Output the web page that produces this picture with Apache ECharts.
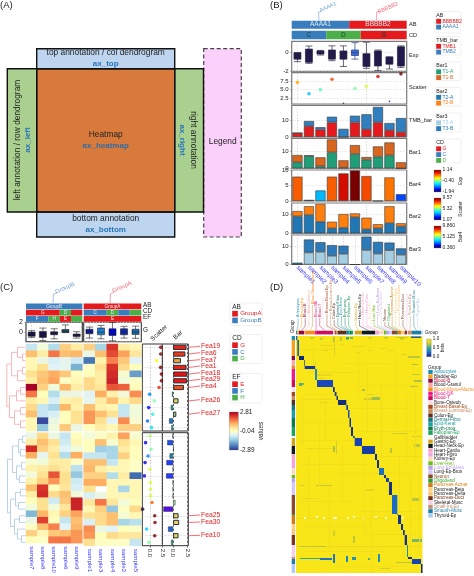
<!DOCTYPE html>
<html>
<head>
<meta charset="utf-8">
<style>html,body{margin:0;padding:0;background:#fff}#c{width:474px;height:576px}</style>
<script src="https://cdn.jsdelivr.net/npm/echarts@6/dist/echarts.min.js"></script>
</head>
<body>
<div id="c"></div>
<script>
// ---------- Panel B data ----------
const samplesB = ['sample1','sample2','sample3','sample4','sample5','sample6','sample7','sample8','sample9','sample10'];
const abSpans = [['AAAA1',5,'#3a7dbd'],['BBBBB2',5,'#e41a1c']];
const cdSpans = [['C',3,'#3a7dbd'],['D',3,'#4daf4a'],['G',4,'#e41a1c']];
const expBoxes = [
  [-0.98,-0.7,-0.2,0,0],[-1.16,-1.05,-0.2,0.4,0.73],[-0.25,-0.15,0,0.2,0.25],[-0.87,-0.7,-0.2,0.3,0.75],[-1.5,-0.7,-0.3,0.2,0.75],
  [-0.7,-0.3,0,0.3,1.1],[-1.7,-1.5,-0.9,-0.1,1.15],[-1.95,-1.45,-0.7,0.2,0.3],[-1.78,-1.25,-0.9,-0.47,-0.45],[-1.6,-1.45,-0.3,0.65,0.75]];
const expFill = ['#221a4c','#221a4c','#221a4c','#221a4c','#221a4c','#3f6fd6','#221a4c','#221a4c','#221a4c','#221a4c'];
const scatterB = [7.1,3.8,5.0,8.0,1.07,5.3,6.0,8.8,1.6,9.57];
const tmb1 = [2.4,6.5,4.5,8.8,0,8.8,4.7,8.8,4.1,3.0];
const tmb2 = [0,3.1,1.4,3.4,4.9,4.0,9.0,9.3,4.3,8.4];
const t1a = [3.6,7.4,1.2,9.6,0.4,8.6,5.2,7.0,7.8,0];
const t1b = [4.4,0.4,5.4,7.8,4.4,5.4,1.6,6.2,7.8,3.6];
const bar4 = [7.85,0.36,3.4,7.85,8.9,9.86,8.05,0,7.6,2.2];
const t2a = [8.8,9.5,6.0,2.6,2.9,8.3,2.1,2.6,5.3,3.6];
const t2b = [2.7,4.5,9.2,3.4,7.1,2.0,6.0,2.1,8.7,1.6];
const t3a = [0,6.6,7.0,4.8,5.9,0,8.0,6.0,7.9,5.4];
const t3b = [1.0,7.2,5.3,5.9,4.5,0,7.4,6.5,4.2,3.5];

// ---------- Panel C data ----------
const samplesLeft = ['sample7','sample8','sample10','sample6','sample9'];
const samplesRight = ['sample1','sample3','sample4','sample2','sample5'];
const heatValues = [
 [-0.9,-0.3,-1.1,0.7,0.3,0.7,-1.2,2.2,0.3,0.1],
 [0.9,0.3,1.6,0.9,1.0,-0.4,0.9,2.0,1.2,0.4],
 [0.1,-0.4,-0.7,-0.5,-0.8,-2.3,0.2,1.5,0.8,-0.6],
 [0.1,0.5,-0.6,-0.5,-1.7,-0.1,0.5,2.2,0.6,0],
 [0.5,0.8,1.1,0.8,0,0,0.3,2.3,-0.2,-1.9],
 [0.3,0.9,1.2,-0.1,0.1,0.6,0.3,2.4,-0.3,-0.1],
 [2.8,0.7,-0.3,1.0,0.3,0.6,0.4,1.9,1.8,0],
 [1.6,0,-1.1,-0.4,-0.4,-0.6,1.1,0.2,-0.3,1.4],
 [0.3,0.1,-0.7,0.2,0.3,-0.5,0.3,0.9,0.2,0.6],
 [0.6,-0.9,-1.2,1.0,0.2,0.9,0.2,0.1,-0.9,-0.3],
 [0.9,-0.9,-0.7,0,0.5,1.3,0.9,0.5,-0.9,-0.3],
 [0.1,-2.7,-0.4,0,0.5,1.3,0.5,-0.6,1.4,-0.2],
 [0.1,-1.4,-0.3,0.8,-0.4,0,0.3,0.1,0.7,0.7],
 [-0.4,0.6,-0.4,-0.9,0,-0.3,-0.1,0.2,1.2,-0.2],
 [0.3,0.9,0.5,-0.8,0.1,0,0.9,-0.2,0.5,0.1],
 [2.3,0.7,0.3,-0.6,-0.3,0,-1.3,-1.2,0.3,0],
 [1.1,-0.5,0.5,-1.1,1.1,-0.9,-0.9,-1.2,0.7,0],
 [-0.2,-0.3,0.3,0.3,-0.1,0.9,0.9,-0.9,0.1,-0.1],
 [0.2,0.3,0.5,0.3,-1.0,1.0,0.3,0.1,0.1,-0.1],
 [-0.3,0.5,1.9,0.5,-1.4,0.7,0.7,-1.1,0.3,-2.4],
 [0.2,0.7,1.3,0.5,-0.8,1.1,1.1,0.1,0.1,0.1],
 [0.9,2.2,0,0.4,-0.7,0.5,null,0.1,-1.2,0.1],
 [0.3,2.3,0.6,0.9,-0.3,-0.7,-0.4,0.1,0.1,0.1],
 [0,0.5,-0.8,0.8,2.4,0.4,1.6,0.4,-0.3,0],
 [-0.3,0.5,-0.3,0.4,2.4,0.1,0.7,-1.4,-0.1,0.6],
 [-1.6,1.0,0.1,0.7,1.2,0.5,0.6,0.9,-0.2,0.1],
 [-0.4,2.1,0,-0.9,0.9,-0.7,0.6,0.9,-1.2,-1.0],
 [-0.1,0.9,1.5,-0.6,1.0,1.4,-0.4,-0.6,0,-0.1],
 [0.7,0.1,0.8,0.9,1.3,1.3,0,0.6,0.4,0.4],
 [0,-0.1,1.6,1.6,1.3,0.5,-0.1,-0.1,-0.1,-0.9]];
const gBoxes = [
 [-1.1,-0.85,-0.4,0,0.3],[-1.75,-1.1,-0.5,0.15,0.85],[-1.4,-0.55,-0.2,0.07,0.7],[-0.1,-0.07,0.2,0.55,1.5],[-1.25,-0.9,-0.7,-0.4,0.1],
 [-1.25,-0.35,0,0.6,1.05],[-1.4,-0.55,0,0.85,1.4],[-1.8,-0.7,-0.1,0.7,2],[-1.25,-0.55,0,0.7,1.2],[-1.3,-0.5,0,0.6,1.25]];
const gFill = ['#16124c','#16124c','#16124c','#1d5a6a','#16124c','#0a1aa0','#1a7fd0','#0000d8','#0a28b0','#1a6ab0'];
const feaScatter = [2.17,2.17,1.35,2.15,2.3,2.3,1.83,-0.07,0.87,-0.27,0.55,-0.5,0.3,0,-0.9,0.2,-0.4,-1.0,0,-1.15,0.1,0.1,0.1,0.4,-1.5,0.95,1.0,-0.68,0.95,-0.2];
const feaScatterTone = [1,1,0.62,1,1,1,0.85,0.25,0.5,0.12,0.42,0.22,0.38,0.55,0.12,0.5,0.25,0.1,0.58,0.1,0.6,0.58,0.58,0.78,0,1,1,0.34,1,0.5];
const feaBar = [2.3,2.1,1.34,2.3,2.45,2.4,1.85,-0.2,0.93,-0.4,0.55,-0.7,-0.3,-0.1,-1.0,0.1,-0.6,-1.15,-0.05,-1.2,-0.05,-0.05,-0.05,0.4,-1.67,0.93,1.04,-0.87,0.93,-0.35];
const feaLabelled = [0,1,2,3,4,5,6,8,10,25,26,28];
const feaNames = ['Fea19','Fea6','Fea7','Fea1','Fea18','Fea29','Fea4','Fea26','Fea27','Fea25','Fea30','Fea10'];
const cAB = [['GroupB',0,5,'#3a7dbd'],['GroupA',0,5,'#e41a1c']];
const cCD = [[['G',3,'#e41a1c'],['D',1,'#4daf4a'],['',1,'#e41a1c']],[['C',2,'#3a7dbd'],['D',1,'#4daf4a'],['',1,'#3a7dbd'],['',1,'#4daf4a']]];
const cEF = [[['F',2,'#3a7dbd'],['H',1,'#4daf4a'],['E',1,'#e41a1c'],['',1,'#4daf4a']],[['E',5,'#e41a1c']]];
// nested merges: [height, left, right]; a number is a leaf row
const treeUpper = [18.7,[14,[8,0,[3,1,2]],[8,[3,3,4],5]],[16,[9,[5,6,7],8],[11,[5,9,10],[5,11,12]]]];
const treeLower = [18,[13,[7,[3,0,1],[5,2,3]],[9,[4,4,5],[6,6,7]]],[15,[10,[5,8,9],[7,10,11]],[11,[6,12,13],[8,14,[4,15,16]]]]];

// ---------- Panel D data ----------
const groupNames = ['Adipocytes','Bladder-Ep','Blood-B','Blood-Granul','Blood-Mono+Macro','Blood-NK','Blood-T','Bone-Osteob','Breast-Basal-Ep','Breast-Luminal-Ep','Colon-Ep','Dermal-Fibro','Epid-Kerat','Eryth-prog','Fallopian-Ep','Gallbladder','Gastric-Ep','Head-Neck-Ep','Heart-Cardio','Heart-Fibro','Kidney-Ep','Liver-Hep','Lung-Ep-Alveo','Lung-Ep-Bron','Neuron','Oligodend','Pancreas-Acinar','Pancreas-Beta','Pancreas-Delta','Pancreas-Duct','Skeletal-Musc','Small-Int-Ep','Smooth-Musc','Thyroid-Ep'];
const groupColors = ['#1f8fb5','#f7a11a','#8b0b3c','#f5a9a0','#f78b1e','#f0198c','#cc0e5a','#f5dce8','#a5481a','#c98a5a','#5b2f1a','#17787a','#1a9fa5','#0e7a4a','#1ea35a','#fbfbf0','#d4a017','#111a1a','#f6a5c0','#f3a4e0','#fcdcb8','#6abf10','#b9a3f0','#d7c7f7','#8a4a2a','#2e9e2e','#d97a10','#fbd27a','#f9c57a','#7a3518','#f7cfe8','#c09070','#1a7fa0','#b0c8f5'];
const groupTextColors = ['#1f8fb5','#222','#c40f3c','#222','#f78b1e','#f0198c','#cc0e5a','#222','#a5481a','#c98a5a','#222','#17787a','#1a9fa5','#0e7a4a','#1ea35a','#222','#222','#222','#222','#222','#222','#6abf10','#b9a3f0','#222','#8a4a2a','#2e9e2e','#d97a10','#222','#222','#7a3518','#222','#c09070','#1a7fa0','#222'];
const colEdges = [0,1.3,3,8,8.7,19,21,37,38.7,40.5,42,50.3,52,53.5,55,57,58.7,66,79,81,83,88,90,93,96,101.3,102,105,107,108.7,111,112,116,125,126.5];
const rowEdges = [0,4,20,24,30,33,44,51,56,60,64,69,74,82,91,100,102,110,118,124,132,139,142,146,159,178,179,188,194,199,209,221,223,228,237];
const groupBeta = [0.2,0.22,0.03,0.1,0.08,0.35,0.14,0.06,0.08,0.06,0.04,0.12,0.15,0.06,0.06,0.1,0.12,0.1,0.06,0.06,0.25,0.06,0.12,0.06,0.24,0.1,0.06,0.06,0.06,0.06,0.35,0.06,0.12,0.03];
const groupLabelLift = [18,18,18,22,31,18,18,16,22,24,16,18,20,18,18,16,14,16,20,22,16,14,22,20,14,14,20,22,24,16,18,20,22,18];
// off-diagonal hypomethylated stretches: [col0, col1, row0, row1, beta]; beta null is a missing stretch
const betaPatches = [
 [115,125,0.5,2,0.18],[100,112,1,2,0.75],[14,18,1,2.5,0.72],[24,27,2,3.5,0.72],[37,39,1,6,0.65],[44,46,1,5,0.72],[50,53,1,3.5,0.5],[54,57,1,3,0.6],[72,76,1,2.5,0.78],[88,92,1,2.5,0.74],[104,108,2,3.5,0.72],
 [24,36,9,10,0.86],[26,32,14,15,0.84],[38,39,0,20,0.8],[45,49,8,9,0.84],[56,70,10,11,0.86],[60,64,16,17,0.85],[72,76,14,15,0.86],[84,90,12,13,0.84],[92,98,14,15,0.86],[105,110,18,19,0.8],[112,124,20,22,0.72],[116,122,28,29,0.68],
 [116,124,38,39,0.72],[118,126,44,46,0.68],[114,122,50,51,0.72],[4,8,47,49,0.6],[3,6,47,50,0.55],[19,36,38,40,0.85],[22,30,42,43,0.84],[19,20,25,44,0.82],
 [66,69,53,55,0.68],[68,80,62,64,0.78],[72,78,58,59,0.82],[76,84,61,64,0.65],[6,36,63,64,0.88],[24,34,66,67,0.85],[96,112,97,98,0.78],[10,40,112,113,0.88],[40,41,105,118,0.78],[37,39,110,116,0.68],[94,96,112,117,0.72],[116,126,100,101,0.78],[118,124,108,111,0.72],
 [4,8,149,150,0.78],[20,36,149,150,0.74],[6,22,162,163,0.88],[70,78,153,155,0.82],[116,124,162,165,0.72],
 [0,126,182,183,0.92],[8,10,181,183,null],[20,22,180,182,null],[27,29,181,183,null],[37,41,181,183,null],[51,53,181,183,null],[57,59,180,182,null],[67,69,181,183,null],[79,81,180,182,null],[89,91,181,183,null],[106,108,181,183,null],
 [37,39,194,200,0.78],[57,59,200,207,0.72],[116,126,203,206,0.6],[0,126,210,211,0.88],[4,30,210,211,0.72],
 [4,34,222,223,0.5],[24,36,222,224,0.28],[37,39,218,227,0.28],[50,52,220,226,0.32],[82,84,218,226,0.38],[72,74,222,224,0.55],[56,60,221,224,0.38],[100,120,226,227,0.72],[84,94,232,233,0.78],
 // faint column and row streaks across the body of the matrix
 [6,7,60,110,0.93],[12,13,120,180,0.93],[17,18,4,36,0.92],[23,24,90,150,0.94],[29,30,60,104,0.93],[33,34,150,215,0.92],[46,47,110,170,0.93],[62,63,12,60,0.92],[68,69,120,200,0.94],[71,72,30,95,0.93],[75,76,160,235,0.92],[85,86,50,120,0.93],[91,92,130,178,0.94],[99,100,20,90,0.92],[103,104,120,175,0.93],[110,111,60,130,0.92],[114,115,140,215,0.93],[119,120,55,125,0.92],[123,124,130,220,0.9],
 [3,40,13,14,0.92],[45,95,27,28,0.93],[10,60,36,37,0.92],[60,120,49,50,0.93],[8,46,58,59,0.94],[50,110,72,73,0.92],[5,50,86,87,0.93],[62,124,95,96,0.92],[4,60,104,105,0.94],[82,125,120,121,0.91],[5,70,128,129,0.92],[40,115,137,138,0.93],[3,60,165,166,0.93],[62,120,175,176,0.92],[5,75,190,191,0.93],[70,124,198,199,0.92],[10,88,215,216,0.92],[40,110,230,231,0.93]];

// ---------- colour scales ----------
function ramp(stops){
  return t => echarts.color.lerp(Math.max(0, Math.min(1, t)), stops);
}
const jetStops = ['#1a1040','#0000ff','#007fff','#00e8ff','#7fff9f','#ffff00','#ff7f00','#e81000','#7a0000'];
const rainbowStops = ['#6a00e0','#2040ff','#1fa090','#a0e8a0','#f0d060','#f06020','#f01010'];
const rdylbuStops = ['#313695','#4575b4','#74add1','#abd9e9','#e0f3f8','#ffffbf','#fee090','#fdae61','#f46d43','#d73027','#a50026'];
const betaStops = ['#10206e','#1c50c8','#1f8ac0','#2fa8a0','#a8c048','#e6d420','#f9e718'];
const jet = ramp(jetStops), rainbow = ramp(rainbowStops), betaColor = ramp(betaStops);
const FONT = '"Liberation Sans", Arial, sans-serif';

// ---------- option scaffolding ----------
const grids = [], xAxes = [], yAxes = [], series = [], gfx = [];
function addGrid(r, xa, ya, border){
  const i = grids.length;
  grids.push({left:r[0], top:r[1], width:r[2]-r[0], height:r[3]-r[1], containLabel:false,
    show:!!border, borderColor:border ? border[0] : 'transparent', borderWidth:border ? border[1] : 0, backgroundColor:'transparent'});
  xAxes.push(Object.assign({gridIndex:i}, xa));
  yAxes.push(Object.assign({gridIndex:i}, ya));
  return i;
}
const hiddenParts = {axisLine:{show:false},axisTick:{show:false},axisLabel:{show:false},splitLine:{show:false}};
const plainValue = (min,max,inverse) => Object.assign({type:'value',min,max,inverse:!!inverse},hiddenParts);
const dashed = c => ({show:true,alignWithLabel:true,lineStyle:{color:c,width:0.5,type:[1.5,1.5]}});
function catX(data, lines){
  return Object.assign({type:'category',data},hiddenParts,{splitLine:lines ? dashed('#bbb') : {show:false}});
}
function catY(data, inverse, lines){
  return Object.assign({type:'category',data,inverse:!!inverse},hiddenParts,{splitLine:lines ? dashed('#bbb') : {show:false}});
}
function valY(min,max,ticks,fmt,size){
  return {type:'value',min,max,axisLine:{show:false},
    axisTick:{show:true,customValues:ticks,length:1.5,lineStyle:{color:'#555',width:0.5}},
    axisLabel:{show:true,customValues:ticks,fontSize:size||6,fontFamily:FONT,color:'#222',margin:3,formatter:fmt||(v=>String(v))},
    splitLine:{show:true,lineStyle:{color:'#ccc',width:0.5,type:[1.5,1.5]}}};
}
function rects(gi, items, z){
  series.push({type:'custom',xAxisIndex:gi,yAxisIndex:gi,silent:true,z:z||2,clip:false,
    data:items.map(d=>d.v),
    renderItem(p,api){
      const d = items[p.dataIndex], a = api.coord([d.v[0],d.v[2]]), b = api.coord([d.v[1],d.v[3]]);
      const kids = [{type:'rect',shape:{x:Math.min(a[0],b[0]),y:Math.min(a[1],b[1]),width:Math.abs(b[0]-a[0]),height:Math.abs(b[1]-a[1])},style:{fill:d.color}}];
      if(d.text) kids.push({type:'text',x:(a[0]+b[0])/2,y:(a[1]+b[1])/2,style:{text:d.text,fill:d.textColor||'#fff',fontSize:d.size||6,fontFamily:FONT,align:'center',verticalAlign:'middle'}});
      return {type:'group',children:kids};
    }});
}
function treeSegments(node, out){
  if(typeof node === 'number') return {y:node+0.5,d:0};
  const l = treeSegments(node[1],out), r = treeSegments(node[2],out);
  out.push([l.d,l.y,node[0],l.y],[r.d,r.y,node[0],r.y],[node[0],l.y,node[0],r.y]);
  return {y:(l.y+r.y)/2,d:node[0]};
}
function tree(gi, root, color){
  const segs = []; treeSegments(root,segs);
  series.push({type:'custom',xAxisIndex:gi,yAxisIndex:gi,silent:true,clip:false,data:segs,
    renderItem(p,api){
      const a = api.coord([api.value(0),api.value(1)]), b = api.coord([api.value(2),api.value(3)]);
      return {type:'line',shape:{x1:a[0],y1:a[1],x2:b[0],y2:b[1]},style:{stroke:color,lineWidth:0.8}};
    }});
}
const T = (text,x,y,o) => gfx.push(Object.assign({type:'text',x,y,rotation:(o&&o.rot)||0,silent:true,
  style:{text,fill:(o&&o.color)||'#222',fontSize:(o&&o.size)||6,fontFamily:FONT,fontWeight:(o&&o.weight)||'normal',align:(o&&o.align)||'left',verticalAlign:'middle'}}));
const R = (x,y,w,h,fill,stroke,lw,dash,radius) => gfx.push({type:'rect',silent:true,shape:{x,y,width:w,height:h,r:radius||0},style:{fill,stroke:stroke||null,lineWidth:lw||0,lineDash:dash||null}});
const L = (pts,color,lw) => gfx.push({type:'polyline',silent:true,shape:{points:pts},style:{stroke:color,lineWidth:lw||0.6,fill:null}});
const ROT90 = Math.PI/2;

// ---------- Panel A: axes layout diagram ----------
T('(A)',0,5,{size:9.5});
R(36.7,48.7,138,20,'#bdd5ee');
R(36.7,212,138,25,'#bdd5ee');
R(7.3,68.7,29.4,143.3,'#a9d08e');
R(174.7,68.7,28.8,143.3,'#a9d08e');
R(36.7,68.7,138,143.3,'#d87a3c');
R(203.7,48.7,37.6,188.3,'#fbd0fb','#444',1.2,[4,2.5]);
[[36.7,48.7,138,20],[36.7,212,138,25],[7.3,68.7,29.4,143.3],[174.7,68.7,28.8,143.3],[36.7,68.7,138,143.3]]
  .forEach(r=>R(r[0],r[1],r[2],r[3],null,'#111',1.4));
T('top annotation / col dendrogram',105.7,53,{size:8.4,align:'center'});
T('ax_top',105.7,64,{size:8,align:'center',color:'#2a75bb',weight:'bold'});
T('Heatmap',105.7,134.7,{size:8.4,align:'center'});
T('ax_heatmap',105.7,145.7,{size:8,align:'center',color:'#2f6ca8',weight:'bold'});
T('bottom annotation',105.7,219,{size:8.4,align:'center'});
T('ax_bottom',105.7,229.7,{size:8,align:'center',color:'#2a75bb',weight:'bold'});
T('left annotation / row dendrogram',17.5,140,{size:8.4,align:'center',rot:ROT90});
T('ax_left',28,140,{size:8,align:'center',color:'#2a75bb',weight:'bold',rot:ROT90});
T('ax_right',182.5,140,{size:8,align:'center',color:'#2a75bb',weight:'bold',rot:-ROT90});
T('right annotation',193,140,{size:8.4,align:'center',rot:-ROT90});
T('Legend',222.7,142,{size:8.4,align:'center'});

// ---------- Panel B: stacked annotations ----------
T('(B)',270,5,{size:9.5});
const bL = 291.7, bR = 406.7, frameB = ['#7a7a7a',1.2];
function spanItems(spans,textColor,size,y0,y1){
  let s = 0;
  return spans.map(d=>{const it = {v:[s,s+d[1],y0,y1],color:d[2],text:d[0],textColor,size}; s+=d[1]; return it;});
}
const gAB = addGrid([bL,20.7,bR,28.7],plainValue(0,10),plainValue(0,1));
rects(gAB,spanItems(abSpans,'#dbe8f5',6.5,0,1));
const gCD = addGrid([bL,30.7,bR,39.3],plainValue(0,10),plainValue(0,1));
rects(gCD,spanItems(cdSpans,'#143',6.5,0,1));

const gExp = addGrid([bL,41.3,bR,71.3],catX(samplesB,true),valY(-2.03,1.25,[-2,0]),frameB);
series.push({type:'boxplot',xAxisIndex:gExp,yAxisIndex:gExp,silent:true,boxWidth:[6.5,7],
  data:expBoxes.map((b,i)=>({value:b,itemStyle:{color:expFill[i],borderColor:i===5?'#1e3a80':'#2a2440',borderWidth:0.7}}))});

const gSc = addGrid([bL,72.7,bR,104],catX(samplesB,true),valY(0.85,9.9,[2.5,5,7.5],v=>v.toFixed(1)),frameB);
series.push({type:'scatter',xAxisIndex:gSc,yAxisIndex:gSc,silent:true,
  data:scatterB.map(v=>({value:v,symbolSize:v<2?1.6:3.6,itemStyle:{color:jet((v-1.07)/(9.57-1.07))}}))});

function stackedPanel(rect,ymax,ticks,a,b,ca,cb,name){
  const g = addGrid(rect,catX(samplesB,true),valY(0,ymax,ticks),frameB);
  [[a,ca],[b,cb]].forEach(p=>series.push({type:'bar',stack:name,xAxisIndex:g,yAxisIndex:g,silent:true,barWidth:'88%',
    data:p[0],itemStyle:{color:p[1],borderColor:'#3a3a3a',borderWidth:0.6}}));
  return g;
}
stackedPanel([bL,105.3,bR,137],19.1,[0,10],tmb1,tmb2,'#e41a1c','#2f7fc1','tmb');
stackedPanel([bL,138.3,bR,168.3],18.1,[0,10],t1a,t1b,'#1f9e77','#d9661f','t1');
const gB4 = addGrid([bL,170,bR,201],catX(samplesB,true),valY(0,10,[0,5,10]),frameB);
series.push({type:'bar',xAxisIndex:gB4,yAxisIndex:gB4,silent:true,barWidth:'88%',
  data:bar4.map(v=>({value:v,itemStyle:{color:jet((v-0.36)/(9.86-0.36)),borderColor:'#3a3a3a',borderWidth:0.6}}))});
stackedPanel([bL,203,bR,233.3],15.7,[0,10],t2a,t2b,'#1f77b4','#ff7f0e','t2');
const gB3 = stackedPanel([bL,235,bR,264.5],16.3,[0,10],t3a,t3b,'#a6cee3','#2b7bba','t3');
xAxes[gB3].axisLabel = {show:true,interval:0,rotate:-45,fontSize:6.2,color:'#3a3aff',fontFamily:FONT,margin:2};

[['AB',24.7],['CD',35],['Exp',55],['Scatter',87.3],['TMB_bar',120.7],['Bar1',152.3],['Bar4',184.3],['Bar2',216.7],['Bar3',249]]
  .forEach(d=>T(d[0],409,d[1],{size:5.6}));
T('AAAA1',328,7,{size:5.5,color:'#6fa0d0',align:'center',rot:0.42});
L([[319,20],[318.5,12],[322,11]],'#6fa0d0');
T('BBBBB2',388,8,{size:5.5,color:'#f06a78',align:'center',rot:0.42});
L([[376.5,20],[376.7,12],[380,11]],'#f06a78');

function legendBox(x,y,w,h,title,items,px,size,step,py,tx){
  R(x,y,w,h,'#fff','#e6e6e6',0.6,null,1.5);
  T(title,x+px,y+py,{size:size+0.3});
  items.forEach((d,i)=>{
    const yy = y+py+step*(i+1);
    R(x+px,yy-step*0.42,step*0.84,step*0.84,d[1]);
    T(d[0],x+tx,yy,{size,color:d[1]});
  });
}
const lb = (x,y,h,t,it)=>legendBox(x,y,26,h,t,it,1.2,5,5.8,4,7.4);
lb(435,11.5,21.5,'AB',[['BBBBB2','#e41a1c'],['AAAA1','#3a7dbd']]);
lb(435,36.5,18.5,'TMB_bar',[['TMB1','#e41a1c'],['TMB2','#3a7dbd']]);
lb(435,62,18.5,'Bar1',[['T1-A','#1f9e77'],['T1-B','#d9661f']]);
lb(435,87.5,18.5,'Bar2',[['T2-A','#1f77b4'],['T2-B','#ff7f0e']]);
lb(435,113,19,'Bar3',[['T3-A','#a6cee3'],['T3-B','#2b7bba']]);
lb(435,139,24,'CD',[['G','#e41a1c'],['C','#3a7dbd'],['D','#4daf4a']]);

function colourBar(x,y,w,h,stops,labels,title,titleX,size){
  const n = stops.length-1;
  gfx.push({type:'rect',silent:true,shape:{x,y,width:w,height:h},style:{stroke:'#666',lineWidth:0.3,
    fill:new echarts.graphic.LinearGradient(0,0,0,1,stops.map((c,i)=>({offset:1-i/n,color:c})))}});
  labels.forEach((t,i)=>T(t,x+w+1.6,y+h*i/(labels.length-1),{size}));
  T(title,titleX,y+h/2,{size,align:'center',rot:ROT90});
}
colourBar(434,170,7,22,jetStops,['1.14','-0.40','-1.94'],'Exp',461,5);
colourBar(434,198,7,22,jetStops,['9.57','5.32','1.07'],'Scatter',461,5);
colourBar(434,226,7,22,jetStops,['9.860','5.125','0.360'],'Bar4',461,5);

// ---------- Panel C: clustered heatmap with annotations ----------
T('(C)',0,287,{size:9.5});
const cL0 = 26, cL1 = 82.3, cR0 = 83.7, cR1 = 141.3, rowsTop = 344, rowsMid = 431, rowsMid2 = 432.7, rowsEnd = 545.7;
[[cL0,cL1,0],[cR0,cR1,1]].forEach(p=>{
  const g = addGrid([p[0],303.3,p[1],322],plainValue(0,5),plainValue(0,3,true));
  const items = [{v:[0,5,0.03,0.97],color:cAB[p[2]][3],text:cAB[p[2]][0],textColor:'#eef',size:4.6}];
  const row = (spans,r)=>{let s=0; spans.forEach(d=>{items.push({v:[s,s+d[1],r+0.03,r+0.97],color:d[2],text:d[0],textColor:'#eef',size:4.6}); s+=d[1];});};
  row(cCD[p[2]],1); row(cEF[p[2]],2);
  rects(g,items);
  const gb = addGrid([p[0],322.3,p[1],341.7],catX(p[2]?samplesRight:samplesLeft,true),
    valY(-2,2.05,p[2]?[]:[0,2],null,7),['#333',1.1]);
  yAxes[gb].splitLine = {show:true,lineStyle:{color:'#ddd',width:0.5,type:[1.5,1.5]}};
  if(p[2]){ yAxes[gb].axisLabel = {show:false}; yAxes[gb].axisTick = {show:false}; }
  const off = p[2]?5:0;
  series.push({type:'boxplot',xAxisIndex:gb,yAxisIndex:gb,silent:true,boxWidth:[6.5,7],
    data:gBoxes.slice(off,off+5).map((b,i)=>({value:b,itemStyle:{color:gFill[off+i],borderColor:'#222',borderWidth:0.6}}))});
});
[['AB',305.7],['CD',311.7],['EF',317.7],['G',330.5]].forEach(d=>T(d[0],143,d[1],{size:6.4}));
T('GroupB',65,288,{size:6,color:'#6fa0d0',align:'center',rot:0.42});
L([[53,303],[53.5,294],[57,293]],'#6fa0d0');
T('GroupA',122,287,{size:6,color:'#f06a78',align:'center',rot:0.42});
L([[110,303],[110.5,294],[114,292]],'#f06a78');

const heatSeries = [];
function heatBlock(rect,cols,rowStart,rowEnd,colOff,labels){
  const names = []; for(let i=rowStart;i<rowEnd;i++) names.push(String(i));
  const xa = catX(cols,false);
  if(labels) xa.axisLabel = {show:true,interval:0,rotate:-90,fontSize:6.2,color:'#3a3aff',fontFamily:FONT,margin:3};
  const g = addGrid(rect,xa,catY(names,true,false));
  const data = [];
  for(let r=rowStart;r<rowEnd;r++) for(let c=0;c<5;c++){
    const v = heatValues[r][c+colOff];
    data.push([c,r-rowStart,v===null?'-':v]);
  }
  heatSeries.push(series.length);
  series.push({type:'heatmap',xAxisIndex:g,yAxisIndex:g,silent:true,data});
}
heatBlock([cL0,rowsTop,cL1,rowsMid],samplesLeft,0,13,0,false);
heatBlock([cR0,rowsTop,cR1,rowsMid],samplesRight,0,13,5,false);
heatBlock([cL0,rowsMid2,cL1,rowsEnd],samplesLeft,13,30,0,true);
heatBlock([cR0,rowsMid2,cR1,rowsEnd],samplesRight,13,30,5,true);

tree(addGrid([7,rowsTop,25.5,rowsMid],plainValue(0,18.5,true),plainValue(0,13,true)),treeUpper,'#f2a9a9');
tree(addGrid([7,rowsMid2,25.5,rowsEnd],plainValue(0,18.5,true),plainValue(0,17,true)),treeLower,'#a9c8e2');

function feaColumns(r0,r1,rect,labels){
  const names = []; for(let i=r0;i<r1;i++) names.push(String(i));
  const sx = {type:'value',min:-1.56,max:2.5,axisLine:{show:false},
    axisTick:{show:!!labels,customValues:[0,2.5],length:2,lineStyle:{color:'#333',width:0.6}},
    axisLabel:labels?{show:true,customValues:[0,2.5],rotate:-90,fontSize:6.2,fontFamily:FONT,color:'#222',margin:3,formatter:v=>v.toFixed(1)}:{show:false},
    splitLine:{show:true,lineStyle:{color:'#999',width:0.5,type:[1.5,1.5]}}};
  const g1 = addGrid([142.3,rect[0],162.4,rect[1]],sx,catY(names,true,true),['#333',1]);
  series.push({type:'scatter',xAxisIndex:g1,yAxisIndex:g1,silent:true,symbolSize:3.6,
    data:names.map((n,i)=>({value:[feaScatter[r0+i],i],itemStyle:{color:jet(feaScatterTone[r0+i])}}))});
  const bx = Object.assign({},sx,{min:-1.84,max:2.6,splitLine:{show:true,lineStyle:{color:'#333',width:0.7,type:[2,2]}}});
  const g2 = addGrid([162.4,rect[0],188.3,rect[1]],bx,catY(names,true,true),['#333',1]);
  series.push({type:'bar',xAxisIndex:g2,yAxisIndex:g2,silent:true,barWidth:'78%',
    data:names.map((n,i)=>{
      const v = feaBar[r0+i], marked = feaLabelled.indexOf(r0+i)>=0;
      return {value:v,itemStyle:{color:rainbow((v+1.84)/(2.45+1.84)),borderColor:'#23323a',borderWidth:marked?1:0.5}};
    })});
}
feaColumns(0,13,[rowsTop,rowsMid],false);
feaColumns(13,30,[rowsMid2,rowsEnd],true);
T('Scatter',159,333,{size:6.4,align:'center',rot:0.75});
T('Bar',178,335,{size:6.4,align:'center',rot:0.75});
[346.3,352.7,359.7,366,372.7,379.3,386,399.7,412.7,515,522,535.3].forEach((y,i)=>{
  const r = feaLabelled[i], rowY = r<13 ? rowsTop+(r+0.5)*(rowsMid-rowsTop)/13 : rowsMid2+(r-13+0.5)*(rowsEnd-rowsMid2)/17;
  L([[188.5,rowY],[200,y]],'#e8323c',0.7);
  T(feaNames[i],201,y,{size:6.8,color:'#e41a1c'});
});
const lc = (y,h,t,it)=>legendBox(230,y,32,h,t,it,2.2,6.2,6.7,4,10.2);
lc(303,22.5,'AB',[['GroupA','#e41a1c'],['GroupB','#3a7dbd']]);
lc(334.5,29,'CD',[['G','#e41a1c'],['C','#3a7dbd'],['D','#4daf4a']]);
lc(373.5,29.5,'EF',[['E','#e41a1c'],['F','#3a7dbd'],['H','#4daf4a']]);
colourBar(229.3,412,9,38,rdylbuStops.slice(),['2.81','-0.04','-2.89'],'values',261,6.4);

// ---------- Panel D: methylation heatmap ----------
T('(D)',270,287,{size:9.5});
const gD = addGrid([296,336,422.5,573],plainValue(0,126.5),plainValue(0,237,true));
const dCells = [{v:[0,126.5,0,237],color:betaColor(0.99)}];
betaPatches.forEach(p=>dCells.push({v:p.slice(0,4),color:p[4]===null?'#fffbc0':betaColor(p[4])}));
groupNames.forEach((n,i)=>{
  dCells.push({v:[colEdges[i],colEdges[i+1],rowEdges[i],rowEdges[i+1]],color:betaColor(groupBeta[i])});
  dCells.push({v:[colEdges[i],colEdges[i+1],-5.3,-1.6],color:groupColors[i]});
  dCells.push({v:[-4.3,-1,rowEdges[i],rowEdges[i+1]],color:groupColors[i]});
});
rects(gD,dCells);
series.push({type:'custom',xAxisIndex:gD,yAxisIndex:gD,silent:true,clip:false,
  data:groupNames.map((n,i)=>[2+i*3.62,-groupLabelLift[i]-1,(colEdges[i]+colEdges[i+1])/2]),
  renderItem(p,api){
    const i = p.dataIndex, a = api.coord([api.value(0),api.value(1)]), b = api.coord([api.value(0),-10]), c = api.coord([api.value(2),-5.5]);
    return {type:'group',children:[
      {type:'polyline',shape:{points:[[a[0],a[1]+1],b,c]},style:{stroke:groupColors[i],lineWidth:0.45,fill:null}},
      {type:'text',x:a[0],y:a[1],rotation:ROT90,style:{text:groupNames[i],fill:groupColors[i],fontSize:3.8,fontFamily:FONT,align:'left',verticalAlign:'middle'}}
    ]};
  }});
T('Group',293.2,333,{size:4.6,rot:ROT90});
T('Group',425,332.5,{size:4.6});
colourBar(426.7,339,4.5,17.7,betaStops.slice(),['1.0','0.5','0.0'],'beta',443,4.6);
T('Group',428,367.8,{size:4.8});
groupNames.forEach((n,i)=>{
  const y = 372+i*4.35;
  R(428.3,y-2,4.4,4,groupColors[i]);
  T(n,434,y,{size:4.55,color:groupTextColors[i]});
});

// ---------- assemble ----------
const chart = echarts.init(document.getElementById('c'),null,{renderer:'canvas',width:474,height:576});
chart.setOption({
  animation:false,
  backgroundColor:'#fff',
  textStyle:{fontFamily:FONT},
  grid:grids, xAxis:xAxes, yAxis:yAxes, series,
  visualMap:{show:false,seriesIndex:heatSeries,dimension:2,min:-2.89,max:2.81,inRange:{color:rdylbuStops}},
  graphic:{elements:gfx}
});
</script>
</body>
</html>
